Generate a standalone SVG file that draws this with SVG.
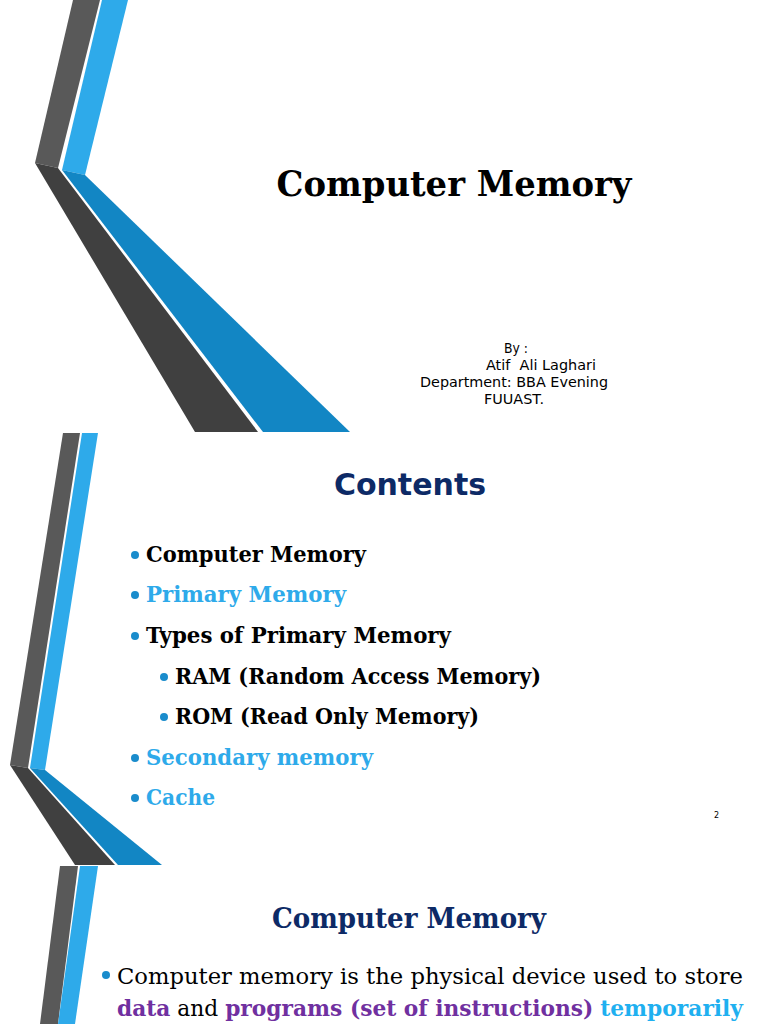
<svg xmlns="http://www.w3.org/2000/svg" width="768" height="1024" viewBox="0 0 768 1024">
<style>
.g1{fill:#595959}.g2{fill:#404040}.b1{fill:#2eaaea}.b2{fill:#1286c4}
.s{font-family:"DejaVu Serif",serif;font-weight:bold}
.k{fill:#000}.lb{fill:#2eaaea}
.dot{fill:#1a8ccc}
</style>
<rect width="768" height="1024" fill="#fff"/>
<g id="slide1">
<polygon class="g1" points="73,0 100,0 58,168 35,163"/>
<polygon class="b1" points="102,0 128,0 85,175 62,170"/>
<polygon class="g2" points="35,163 58,168 258,432 195,432"/>
<polygon class="b2" points="62,170 85,175 350,432 263,432"/>
<text x="454" y="196" text-anchor="middle" class="s k" font-size="36" textLength="355" lengthAdjust="spacingAndGlyphs">Computer Memory</text>
<g font-family="DejaVu Sans,sans-serif" font-size="14" fill="#000">
<text x="504" y="353" textLength="24" lengthAdjust="spacingAndGlyphs">By :</text>
<text x="486" y="370" xml:space="preserve" textLength="110" lengthAdjust="spacingAndGlyphs">Atif  Ali Laghari</text>
<text x="420" y="387" textLength="188" lengthAdjust="spacingAndGlyphs">Department: BBA Evening</text>
<text x="484" y="404" textLength="60" lengthAdjust="spacingAndGlyphs">FUUAST.</text>
</g>
</g>
<g id="slide2">
<polygon class="g1" points="63,433 80,433 28,768 10,765"/>
<polygon class="b1" points="82,433 98,433 45,770 30,768"/>
<polygon class="g2" points="10,765 28,768 115,865 75,865"/>
<polygon class="b2" points="30,768 45,770 162,865 118,865"/>
<text x="410" y="495" text-anchor="middle" font-family="DejaVu Sans,sans-serif" font-weight="bold" font-size="30" fill="#0d2a66">Contents</text>
<g font-size="22">
<circle class="dot" cx="135" cy="555" r="4"/><text x="146" y="562" class="s k" textLength="220" lengthAdjust="spacingAndGlyphs">Computer Memory</text>
<circle class="dot" cx="135" cy="595" r="4"/><text x="146" y="602" class="s lb" textLength="200" lengthAdjust="spacingAndGlyphs">Primary Memory</text>
<circle class="dot" cx="135" cy="636" r="4"/><text x="146" y="643" class="s k" textLength="305" lengthAdjust="spacingAndGlyphs">Types of Primary Memory</text>
<circle class="dot" cx="164" cy="677" r="4"/><text x="175" y="684" class="s k" textLength="366" lengthAdjust="spacingAndGlyphs">RAM (Random Access Memory)</text>
<circle class="dot" cx="164" cy="717" r="4"/><text x="175" y="724" class="s k" textLength="304" lengthAdjust="spacingAndGlyphs">ROM (Read Only Memory)</text>
<circle class="dot" cx="135" cy="758" r="4"/><text x="146" y="765" class="s lb" textLength="227" lengthAdjust="spacingAndGlyphs">Secondary memory</text>
<circle class="dot" cx="135" cy="798" r="4"/><text x="146" y="805" class="s lb" textLength="69" lengthAdjust="spacingAndGlyphs">Cache</text>
</g>
<text x="714" y="818" font-family="DejaVu Sans,sans-serif" font-size="8">2</text>
</g>
<g id="slide3">
<polygon class="g1" points="60,866 78,866 58,1024 40,1024"/>
<polygon class="b1" points="80,866 98,866 75,1024 58,1024"/>
<text x="409" y="928" text-anchor="middle" class="s" fill="#0d2a66" font-size="28" textLength="274" lengthAdjust="spacingAndGlyphs">Computer Memory</text>
<circle class="dot" cx="106" cy="975" r="4"/>
<text x="117" y="984" font-family="DejaVu Serif,serif" font-size="23" textLength="626" lengthAdjust="spacingAndGlyphs">Computer memory is the physical device used to store</text>
<text x="117" y="1016" font-family="DejaVu Serif,serif" font-size="23" textLength="626" lengthAdjust="spacingAndGlyphs"><tspan font-weight="bold" fill="#7030a0">data</tspan> and <tspan font-weight="bold" fill="#7030a0">programs (set of instructions)</tspan> <tspan font-weight="bold" fill="#1fb0f0">temporarily</tspan></text>
</g>
</svg>
